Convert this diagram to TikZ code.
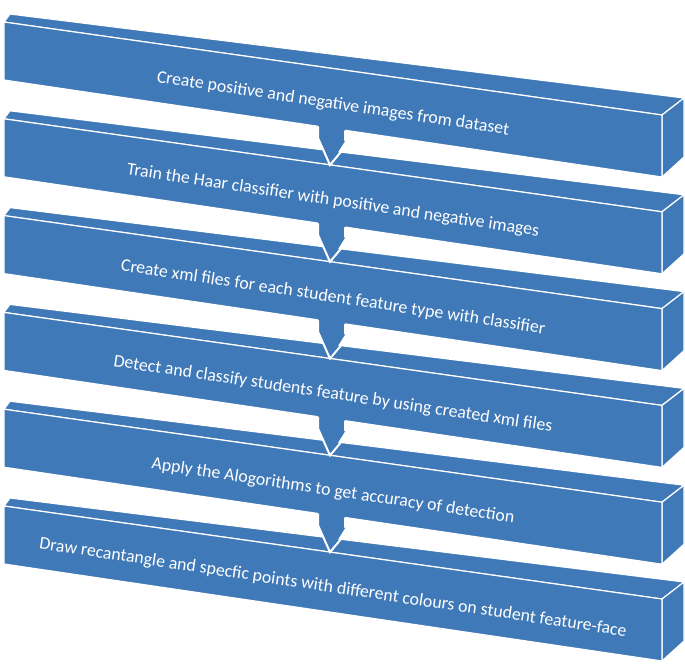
\documentclass[tikz,border=0pt]{standalone}
\usepackage{fontspec}
\setmainfont{Carlito}
\definecolor{barblue}{HTML}{3F79B7}
\begin{document}
\begin{tikzpicture}[x=1pt,y=-1pt,
  face/.style={fill=barblue,draw=white,line width=1.2pt,line join=round},
  lbl/.style={text=white,font=\fontsize{17.8}{20}\selectfont,rotate=-8.5,inner sep=0pt},
  edge/.style={draw=white,line width=2pt,line cap=round}]
\useasboundingbox (0,0) rectangle (685,667);
\foreach \i/\t in {0/{Create positive and negative images from dataset},
  1/{Train the Haar classifier with positive and negative images},
  2/{Create xml files for each student feature type with classifier},
  3/{Detect and classify students feature by using created xml files},
  4/{Apply the Alogorithms to get accuracy of detection},
  5/{Draw recantangle and specfic points with different colours on student feature-face}}{
  \pgfmathsetmacro\dy{96.8*\i}
  \begin{scope}[yshift=-\dy pt]
    \draw[face] (4,22) -- (10,14) -- (684,98) -- (662,115) -- cycle;
    \draw[face] (662,115) -- (684,98) -- (684,157) -- (662,177) -- cycle;
    \draw[face] (4,22) -- (662,115) -- (662,177) -- (4,80) -- cycle;
    \node[lbl] (t\i) at (333,104) {\t};
  \end{scope}
}
\foreach \i in {0,...,4}{
  \pgfmathsetmacro\dy{96.8*\i}
  \begin{scope}[yshift=-\dy pt]
    \coordinate (tip\i) at (330,165);
    \fill[barblue] (318,122) -- (345,126) -- (345,141) -- (tip\i) -- (318,139) -- cycle;
    \draw[edge] (318,127) -- (318,138) -- (tip\i) -- (350,141);
    \draw[edge] (345,131) -- (345,140);
  \end{scope}
}
\end{tikzpicture}
\end{document}
